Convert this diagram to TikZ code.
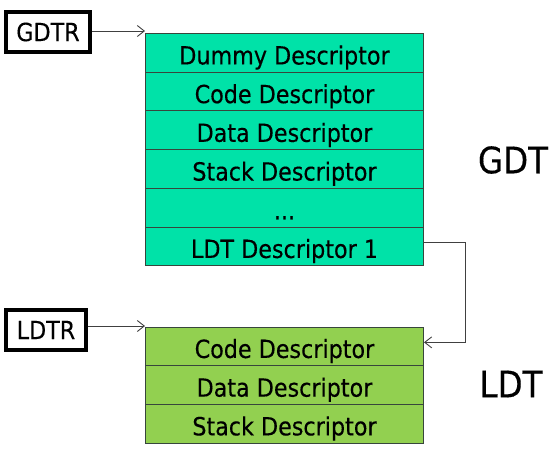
\documentclass[tikz,border=0pt]{standalone}
\usepackage{fontspec}
\setmainfont{DejaVu Sans}[FakeStretch=0.89,FakeBold=0.3]
\usetikzlibrary{arrows.meta,calc}
\definecolor{gdtfill}{RGB}{0,226,168}
\definecolor{ldtfill}{RGB}{146,208,80}
\definecolor{tblborder}{RGB}{55,70,60}
\definecolor{arrowgray}{RGB}{64,64,64}
\tikzset{
  tblrow/.style={draw=tblborder, line width=1pt, minimum width=278pt, minimum height=38.7pt,
    inner sep=0pt, anchor=north west, font=\fontsize{25}{25}\selectfont,
    text height=23.2pt, text depth=0pt},
  gdtrow/.style={tblrow, fill=gdtfill},
  ldtrow/.style={tblrow, fill=ldtfill},
  regbox/.style={draw=black, line width=3.2pt, fill=white, inner sep=0pt,
    font=\fontsize{25}{25}\selectfont, text height=18.2pt, text depth=0pt},
  biglabel/.style={font=\fontsize{36.5}{36.5}\selectfont, text height=26.6pt, text depth=0pt},
  conn/.style={draw=arrowgray, line width=0.9pt, -{Straight Barb[length=7pt,width=11pt]}},
}
\begin{document}
\begin{tikzpicture}[x=1pt,y=-1pt]
\useasboundingbox (0,0) rectangle (554,469);
% GDT
\node[gdtrow] (g1) at (145,33) {Dummy Descriptor};
\node[gdtrow] (g2) at (145,71.7) {Code Descriptor};
\node[gdtrow] (g3) at (145,110.4) {Data Descriptor};
\node[gdtrow] (g4) at (145,149.1) {Stack Descriptor};
\node[gdtrow] (g5) at (145,187.8) {...};
\node[gdtrow] (g6) at (145,226.5) {LDT Descriptor 1};
% LDT
\node[ldtrow] (l1) at (145,326.5) {Code Descriptor};
\node[ldtrow] (l2) at (145,365.2) {Data Descriptor};
\node[ldtrow] (l3) at (145,403.9) {Stack Descriptor};
% labels
\node[biglabel] (gdt) at (513,160) {GDT};
\node[biglabel] (ldt) at (511,384) {LDT};
% registers
\node[regbox, minimum width=84pt, minimum height=40pt] (gdtr) at (48,32) {GDTR};
\node[regbox, minimum width=80pt, minimum height=40pt] (ldtr) at (46,330) {LDTR};
% connectors
\draw[conn] ([yshift=1pt]gdtr.east) -- ([yshift=1pt]gdtr.east -| g1.west);
\draw[conn] ([yshift=4pt]ldtr.east) -- ([yshift=4pt]ldtr.east -| l1.west);
\draw[conn] ([yshift=4pt]g6.east) -- ++(41,0) |- ([yshift=4pt]l1.east);
\end{tikzpicture}
\end{document}
